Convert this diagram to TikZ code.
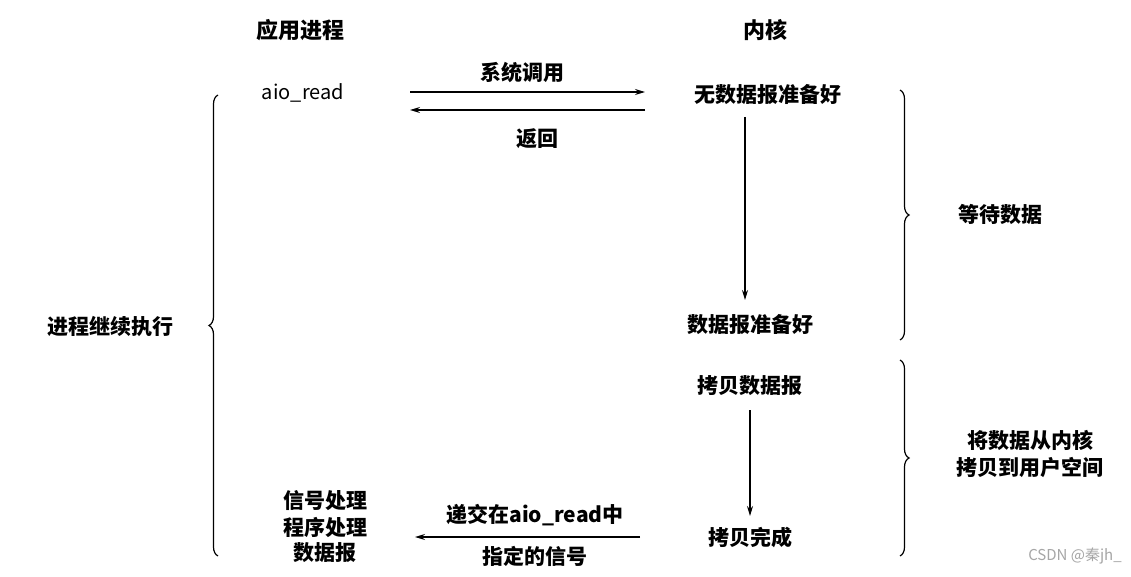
\documentclass[tikz,border=0pt]{standalone}
\usepackage{fontspec}
\setmainfont{Noto Sans CJK SC}
\usetikzlibrary{decorations.pathreplacing,arrows.meta}
\begin{document}
\begin{tikzpicture}[x=1pt,y=-1pt,
  txt/.style={font=\fontsize{21}{25}\selectfont\bfseries, inner sep=1pt, align=center},
  hd/.style={txt, font=\fontsize{22}{26}\selectfont\bfseries},
  arr/.style={draw, line width=1.3pt, -{Stealth[length=10pt,width=6pt]}},
  brc/.style={draw, line width=1.2pt, decorate, decoration={brace, amplitude=9pt}}]
\useasboundingbox[fill=white] (0,0) rectangle (1131,577);
\node[hd] (hA) at (300,30) {应用进程};
\node[hd] (hK) at (765,30) {内核};
\node[txt, font=\fontsize{20}{24}\selectfont] (aio) at (303,93) {aio\_read};
\node[txt] (nodata) at (768,95) {无数据报准备好};
\coordinate (a1) at (410,92); \coordinate (a2) at (645,92);
\coordinate (b1) at (645,110); \coordinate (b2) at (410,110);
\draw[arr] (a1) -- (a2);
\draw[arr] (b1) -- (b2);
\node[txt] (sys) at (522,73) {系统调用};
\node[txt] (ret) at (537,139) {返回};
\node[txt] (ready) at (750,325) {数据报准备好};
\coordinate (v1) at (745,117); \coordinate (v2) at (745,300);
\draw[arr] (v1) -- (v2);
\node[txt] (copy) at (750,386) {拷贝数据报};
\node[txt] (done) at (750,537) {拷贝完成};
\coordinate (w1) at (750,410); \coordinate (w2) at (750,516);
\draw[arr] (w1) -- (w2);
\coordinate (r1t) at (900,90); \coordinate (r1b) at (900,340);
\draw[brc] (r1t) -- (r1b);
\node[txt] (wait) at (1000,214) {等待数据};
\coordinate (r2t) at (900,360); \coordinate (r2b) at (900,556);
\draw[brc] (r2t) -- (r2b);
\node[txt] (cp1) at (1030,440) {将数据从内核};
\node[txt] (cp2) at (1030,467) {拷贝到用户空间};
\coordinate (lb) at (218,556); \coordinate (lt) at (218,95);
\draw[brc] (lb) -- (lt);
\node[txt] (cont) at (110,326) {进程继续执行};
\node[txt] (s1) at (325,501) {信号处理};
\node[txt] (s2) at (325,527) {程序处理};
\node[txt] (s3) at (325,553) {数据报};
\coordinate (c1) at (640,537); \coordinate (c2) at (415,537);
\draw[arr] (c1) -- (c2);
\node[txt] (dl1) at (535,515) {递交在aio\_read中};
\node[txt] (dl2) at (535,556) {指定的信号};
\node[font=\fontsize{15}{18}\selectfont, text=gray!70, inner sep=1pt] (wm) at (1075,556) {CSDN @秦jh\_};
\end{tikzpicture}
\end{document}
